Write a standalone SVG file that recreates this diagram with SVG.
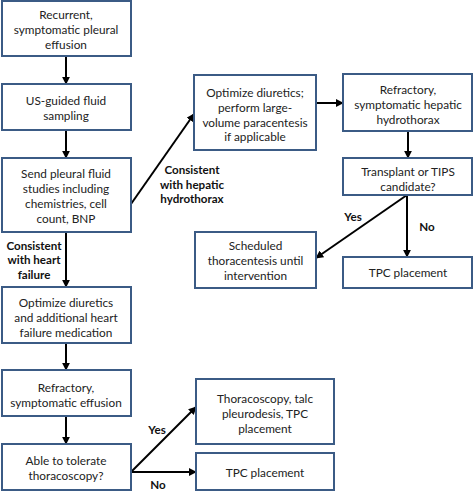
<svg xmlns="http://www.w3.org/2000/svg" width="474" height="492" viewBox="0 0 474 492">
<defs>
<marker id="ah" viewBox="0 0 10 10" refX="9" refY="5" markerWidth="4" markerHeight="4" orient="auto" markerUnits="strokeWidth">
<path d="M0,0 L10,5 L0,10 z" fill="#000"/>
</marker>
<style>
.box{fill:#fff;stroke:#3b5b85;stroke-width:2}
.t{font-family:Lato,"Liberation Sans",sans-serif;font-size:11.8px;fill:#222;text-anchor:middle}
.b{font-family:Lato,"Liberation Sans",sans-serif;font-size:11.6px;font-weight:bold;fill:#111;text-anchor:middle}
.c{stroke:#000;stroke-width:2;fill:none;marker-end:url(#ah)}
</style>
</defs>
<rect width="474" height="492" fill="#fff"/>
<g id="connectors">
<line class="c" x1="66" y1="56" x2="66" y2="84"/>
<line class="c" x1="66" y1="130" x2="66" y2="158"/>
<line class="c" x1="66" y1="232" x2="66" y2="287"/>
<line class="c" x1="66" y1="343" x2="66" y2="370"/>
<line class="c" x1="66" y1="416" x2="66" y2="444"/>
<line class="c" x1="131" y1="204" x2="194" y2="114"/>
<line class="c" x1="316" y1="103" x2="343" y2="103"/>
<line class="c" x1="408" y1="131" x2="408" y2="158"/>
<line class="c" x1="407" y1="195" x2="316" y2="258"/>
<line class="c" x1="407" y1="195" x2="407" y2="257"/>
<line class="c" x1="131" y1="472" x2="196" y2="407"/>
<line class="c" x1="131" y1="472" x2="196" y2="472"/>
<text class="b" x="192" y="174">Consistent</text>
<text class="b" x="192" y="188.5">with hepatic</text>
<text class="b" x="192" y="203">hydrothorax</text>
<text class="b" x="34" y="249.5">Consistent</text>
<text class="b" x="34" y="264">with heart</text>
<text class="b" x="34" y="278.5">failure</text>
<text class="b" x="353" y="221">Yes</text>
<text class="b" x="427" y="231">No</text>
<text class="b" x="157" y="434">Yes</text>
<text class="b" x="158" y="489">No</text>
</g>
<g id="n1"><rect class="box" x="2" y="1" width="129" height="55"/>
<text class="t" x="66" y="18.5">Recurrent,</text><text class="t" x="66" y="33.5">symptomatic pleural</text><text class="t" x="66" y="48.5">effusion</text></g>
<g id="n2"><rect class="box" x="2" y="84" width="129" height="46"/>
<text class="t" x="66" y="104.5">US-guided fluid</text><text class="t" x="66" y="119.5">sampling</text></g>
<g id="n3"><rect class="box" x="2" y="158" width="129" height="74"/>
<text class="t" x="66" y="177.5">Send pleural fluid</text><text class="t" x="66" y="192.5">studies including</text><text class="t" x="66" y="207.5">chemistries, cell</text><text class="t" x="66" y="222.5">count, BNP</text></g>
<g id="n4"><rect class="box" x="2" y="287" width="129" height="56"/>
<text class="t" x="66" y="306.5">Optimize diuretics</text><text class="t" x="66" y="321.5">and additional heart</text><text class="t" x="66" y="336.5">failure medication</text></g>
<g id="n5"><rect class="box" x="2" y="370" width="129" height="46"/>
<text class="t" x="66" y="391.5">Refractory,</text><text class="t" x="66" y="406.5">symptomatic effusion</text></g>
<g id="n6"><rect class="box" x="2" y="444" width="129" height="46"/>
<text class="t" x="66" y="464.5">Able to tolerate</text><text class="t" x="66" y="479.5">thoracoscopy?</text></g>
<g id="n7"><rect class="box" x="194" y="75" width="122" height="75"/>
<text class="t" x="255" y="96.5">Optimize diuretics;</text><text class="t" x="255" y="111.5">perform large-</text><text class="t" x="255" y="126.5">volume paracentesis</text><text class="t" x="255" y="141">if applicable</text></g>
<g id="n8"><rect class="box" x="343" y="74" width="129" height="57"/>
<text class="t" x="408" y="93.5">Refractory,</text><text class="t" x="408" y="108.5">symptomatic hepatic</text><text class="t" x="408" y="123.5">hydrothorax</text></g>
<g id="n9"><rect class="box" x="343" y="158" width="129" height="37"/>
<text class="t" x="408" y="175.5">Transplant or TIPS</text><text class="t" x="408" y="190.5">candidate?</text></g>
<g id="n10"><rect class="box" x="195" y="232" width="121" height="56"/>
<text class="t" x="255.5" y="249.5">Scheduled</text><text class="t" x="255.5" y="264.5">thoracentesis until</text><text class="t" x="255.5" y="279.5">intervention</text></g>
<g id="n11"><rect class="box" x="343" y="257" width="129" height="31"/>
<text class="t" x="408" y="277">TPC placement</text></g>
<g id="n12"><rect class="box" x="196" y="379" width="138" height="65"/>
<text class="t" x="265" y="402.5">Thoracoscopy, talc</text><text class="t" x="265" y="417.5">pleurodesis, TPC</text><text class="t" x="265" y="432.5">placement</text></g>
<g id="n13"><rect class="box" x="196" y="453" width="138" height="37"/>
<text class="t" x="265" y="476.5">TPC placement</text></g>
</svg>
